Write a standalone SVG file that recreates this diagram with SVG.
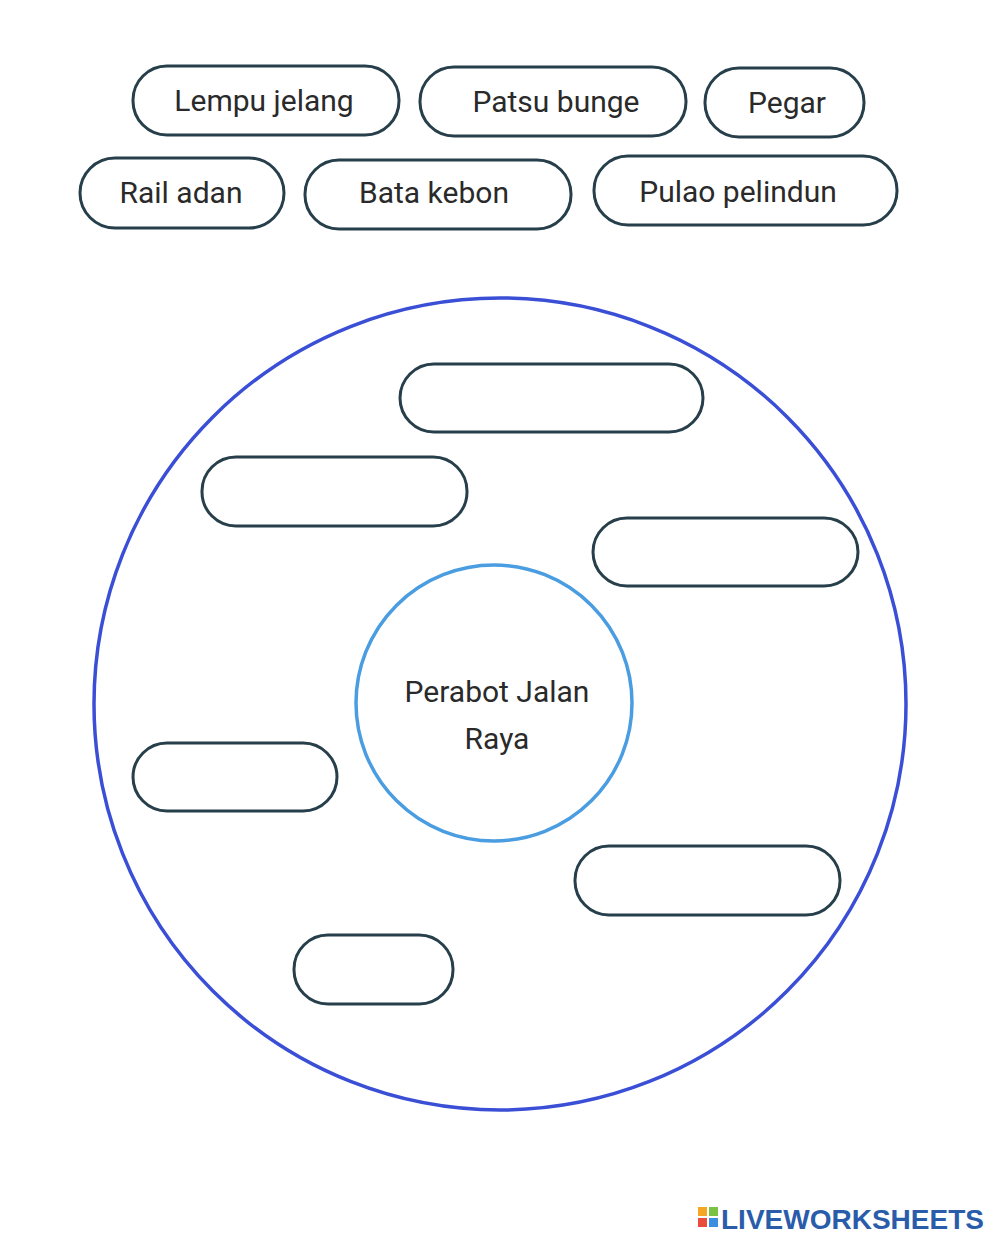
<svg xmlns="http://www.w3.org/2000/svg" width="1000" height="1240" viewBox="0 0 1000 1240">
<style>
.pill{fill:#fff;stroke:#263f4a;stroke-width:3}
.t{font-family:Roboto,"Liberation Sans",sans-serif;font-size:30px;fill:#2a2a2a;text-anchor:middle}
</style>
<rect width="1000" height="1240" fill="#fff"/>
<g id="word-lempu"><rect class="pill" x="133" y="66" width="266" height="69" rx="34"/><text class="t" x="264" y="111">Lempu jelang</text></g>
<g id="word-patsu"><rect class="pill" x="420" y="67" width="266" height="69" rx="34"/><text class="t" x="556" y="112">Patsu bunge</text></g>
<g id="word-pegar"><rect class="pill" x="705" y="68" width="159" height="69" rx="34"/><text class="t" x="787" y="113">Pegar</text></g>
<g id="word-rail"><rect class="pill" x="80" y="158" width="204" height="70" rx="35"/><text class="t" x="181" y="203">Rail adan</text></g>
<g id="word-bata"><rect class="pill" x="305" y="160" width="266" height="69" rx="34"/><text class="t" x="434" y="203">Bata kebon</text></g>
<g id="word-pulao"><rect class="pill" x="594" y="156" width="303" height="69" rx="34"/><text class="t" x="738" y="202">Pulao pelindun</text></g>
<g id="outer"><ellipse cx="500" cy="704" rx="406" ry="406" fill="none" stroke="#3a4fd6" stroke-width="3.5"/></g>
<g id="center"><circle cx="494" cy="703" r="138" fill="#fff" stroke="#4a9de0" stroke-width="3.5"/><text class="t" x="497" y="702">Perabot Jalan</text><text class="t" x="497" y="749">Raya</text></g>
<g id="blank1"><rect class="pill" x="400" y="364" width="303" height="68" rx="34"/></g>
<g id="blank2"><rect class="pill" x="202" y="457" width="265" height="69" rx="34"/></g>
<g id="blank3"><rect class="pill" x="593" y="518" width="265" height="68" rx="34"/></g>
<g id="blank4"><rect class="pill" x="133" y="743" width="204" height="68" rx="34"/></g>
<g id="blank5"><rect class="pill" x="575" y="846" width="265" height="69" rx="34"/></g>
<g id="blank6"><rect class="pill" x="294" y="935" width="159" height="69" rx="34"/></g>
<g id="connectors"></g>
<g id="logo">
<rect x="698" y="1207" width="9" height="9" fill="#f5a623"/><rect x="709" y="1207" width="9" height="9" fill="#7cc242"/>
<rect x="698" y="1218" width="9" height="9" fill="#e94e3c"/><rect x="709" y="1218" width="9" height="9" fill="#3b8ee0"/>
<text x="721" y="1229" font-family="'Liberation Sans',Arial,sans-serif" font-weight="bold" font-size="28" fill="#2a5caa">LIVEWORKSHEETS</text>
</g>
</svg>
